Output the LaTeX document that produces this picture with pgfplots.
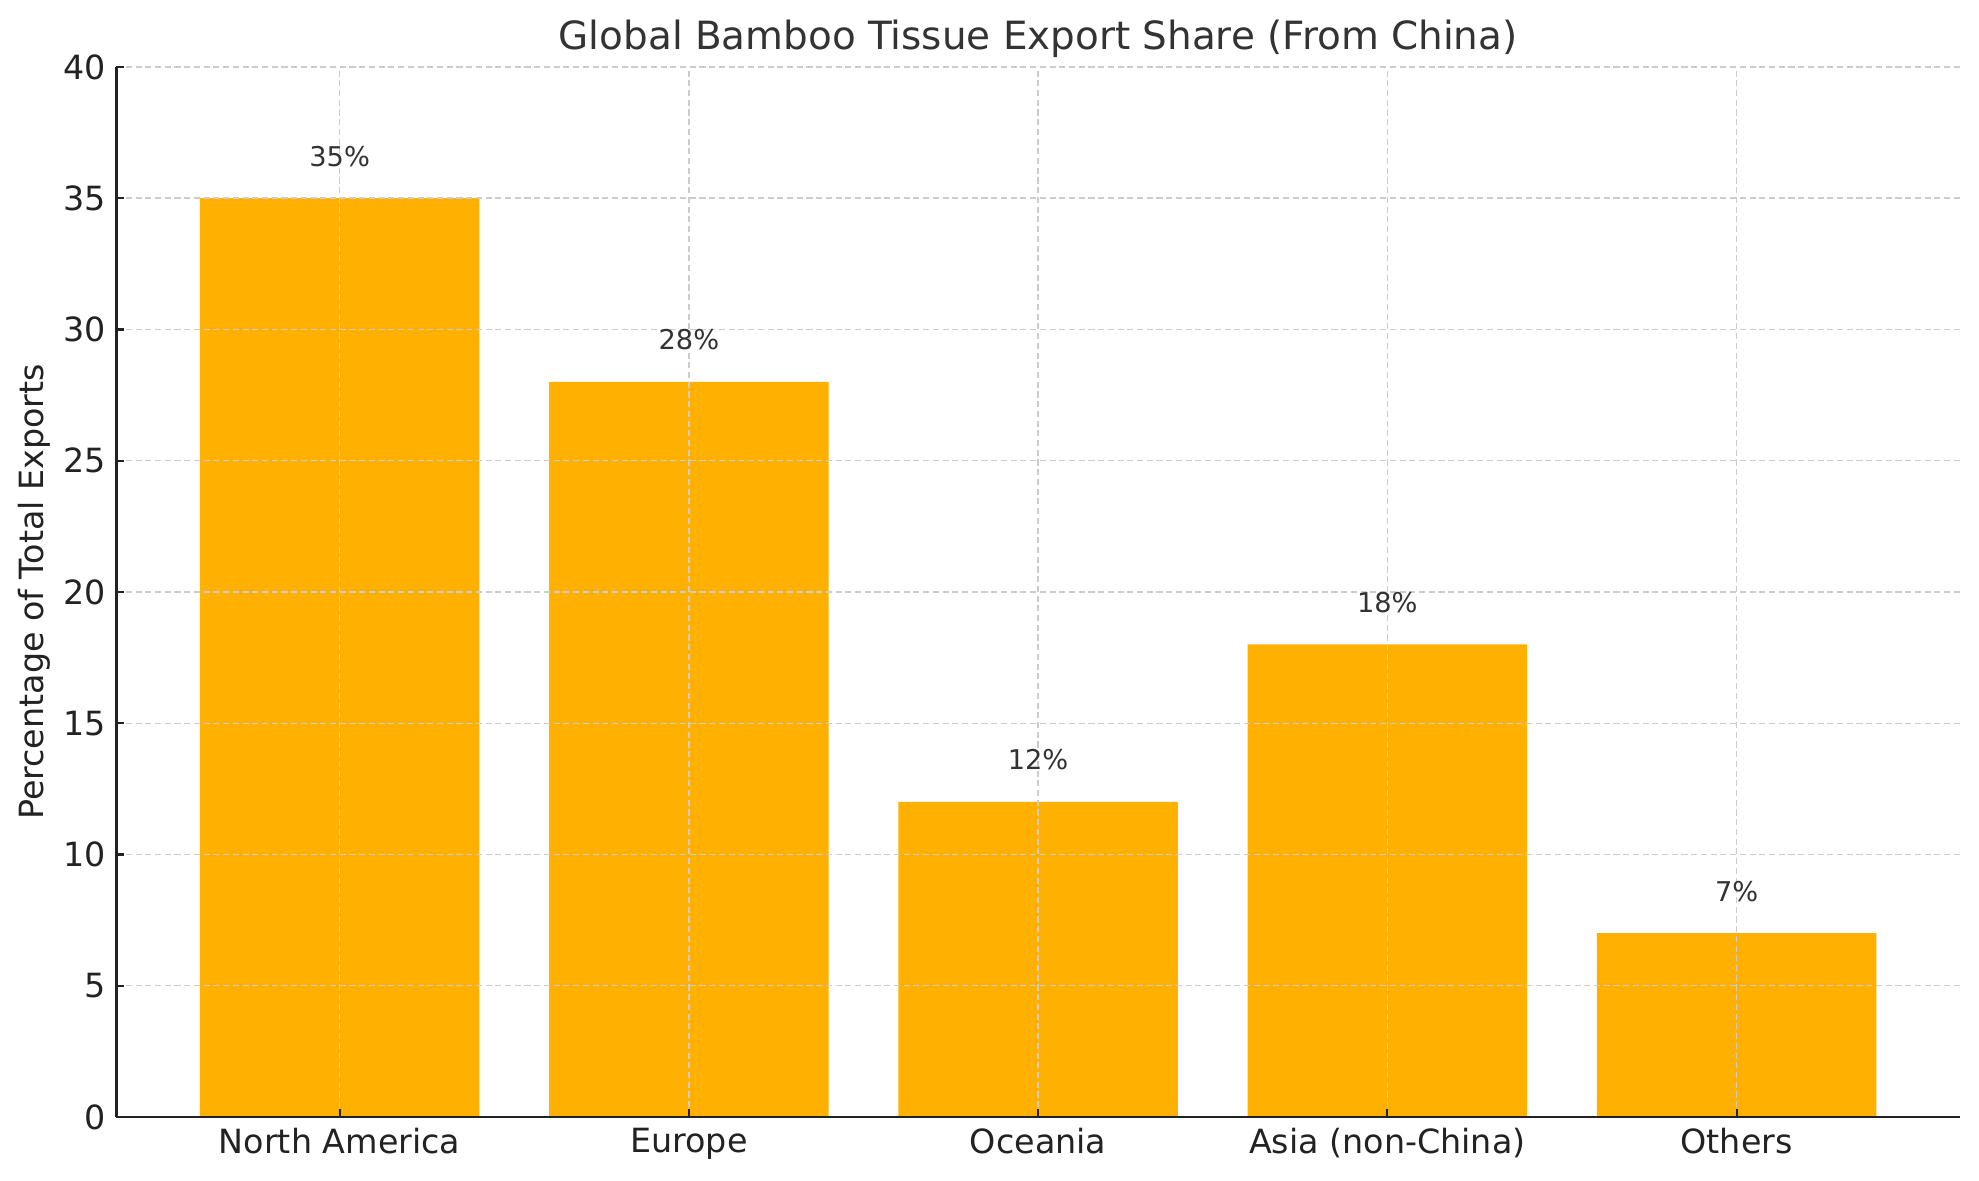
\documentclass[border=0pt]{standalone}
\usepackage{fontspec}
\setmainfont{DejaVu Sans}
\usepackage{pgfplots}
\pgfplotsset{compat=1.18}
\definecolor{barc}{HTML}{FFB000}
\definecolor{gridc}{HTML}{CCCCCC}
\definecolor{txt}{HTML}{333333}
\definecolor{axc}{HTML}{222222}
\begin{document}
\begin{tikzpicture}
\begin{axis}[
  name=ax, scale only axis, width=663.8pt, height=378pt,
  xmin=-0.64, xmax=4.64, ymin=0, ymax=40,
  xtick={0,1,2,3,4},
  xticklabels={North America, Europe, Oceania, Asia (non-China), Others},
  ytick={0,5,...,40},
  axis x line*=bottom, axis y line*=left,
  axis line style={line width=1pt, color=axc, -},
  tick style={line width=0.8pt, color=axc},
  tick align=inside, major tick length=3pt,
  grid=major,
  major grid style={gridc, line width=0.5pt, dash pattern=on 2.2pt off 1.3pt},
  axis on top,
  /pgf/number format/assume math mode=true,
  ticklabel style={font=\fontsize{12}{14}\selectfont, color=axc},
  xticklabel style={anchor=north, inner sep=0pt, yshift=-3.8pt},
  yticklabel style={anchor=east, inner sep=0pt, xshift=-3.6pt},
  title={Global Bamboo Tissue Export Share (From China)},
  title style={font=\fontsize{14}{16}\selectfont, color=txt, at={(0.5,1)}, anchor=center, yshift=4.1pt},
  ylabel={Percentage of Total Exports},
  ylabel style={font=\fontsize{12}{14}\selectfont, color=axc, at={(axis description cs:-0.0444,0.5)}, anchor=center},
  nodes near coords={\pgfmathprintnumber{\pgfplotspointmeta}\%},
  every node near coord/.append style={anchor=south, inner sep=0pt, yshift=11.2pt, font=\fontsize{9.8}{11}\selectfont, color=txt},
]
\addplot[ybar, bar width=0.8, fill=barc, draw=none] coordinates {(0,35) (1,28) (2,12) (3,18) (4,7)};
\end{axis}
\pgfresetboundingbox
\path ([shift={(-41.8pt,-22.7pt)}]ax.south west) rectangle ([shift={(6.8pt,24.1pt)}]ax.north east);
\end{tikzpicture}
\end{document}
